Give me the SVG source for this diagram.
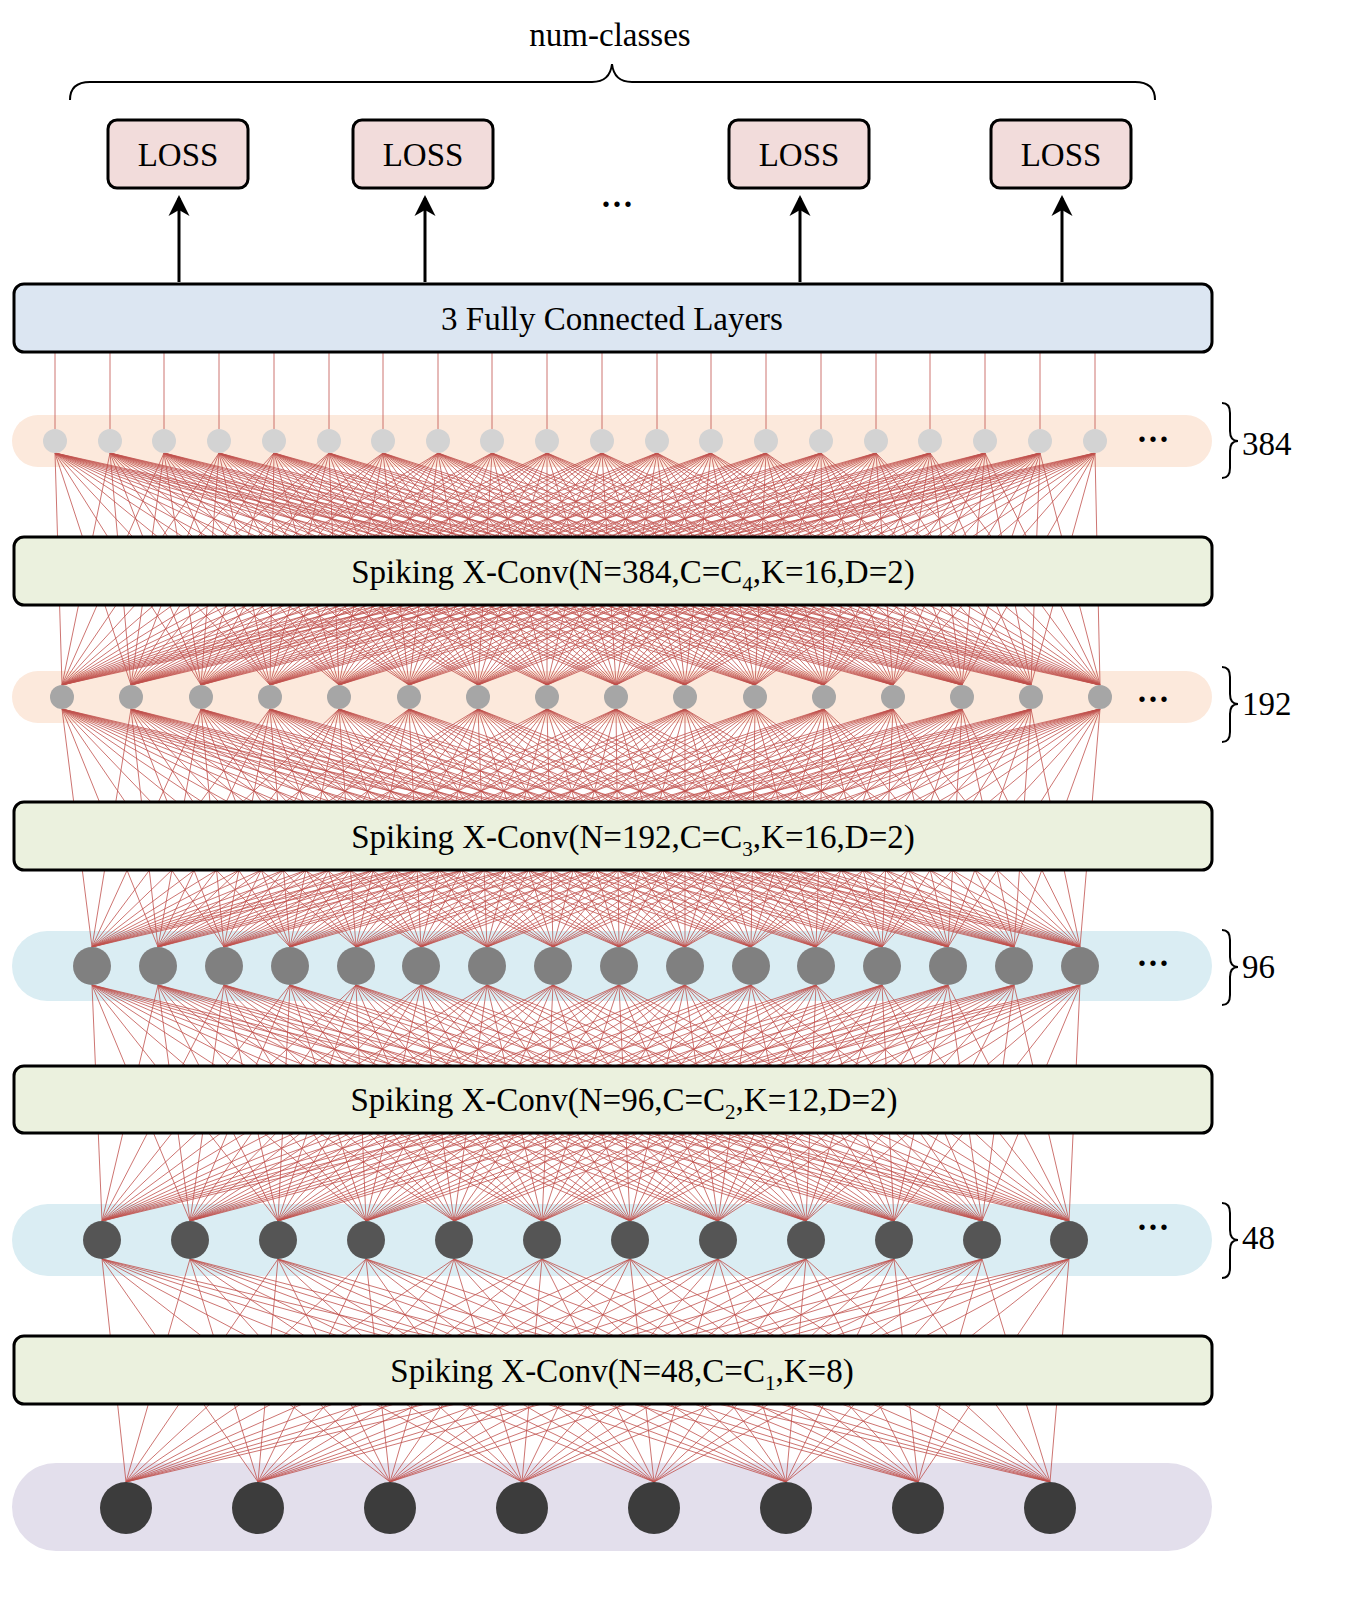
<svg xmlns="http://www.w3.org/2000/svg" width="1353" height="1608" viewBox="0 0 1353 1608">
<style>
text{font-family:"Liberation Serif","Times New Roman",serif;fill:#000}
.box{stroke:#000;stroke-width:3}
.lbl{font-size:33px;text-anchor:middle}
.num{font-size:33px}
.fan{stroke:#c0504d;stroke-width:0.8;fill:none;vector-effect:non-scaling-stroke}
.br{fill:none;stroke:#000;stroke-width:2}
.arr{stroke:#000;stroke-width:3;marker-end:url(#ah)}
</style>
<defs>
<marker id="ah" markerWidth="8" markerHeight="8" refX="6" refY="4" orient="auto" markerUnits="strokeWidth"><path d="M0,0.5L7,4L0,7.5L2,4z" fill="#000"/></marker>
<path id="fA" class="fan" stroke="#c0504d" stroke-width="0.8" fill="none" vector-effect="non-scaling-stroke" d="M0,0L62,1M0,0L131,1M0,0L201,1M0,0L270,1M0,0L339,1M0,0L409,1M0,0L478,1M0,0L547,1M0,0L616,1M0,0L685,1M0,0L755,1M0,0L824,1M0,0L893,1M0,0L962,1M0,0L1031,1M0,0L1100,1"/>
<path id="fB" class="fan" stroke="#c0504d" stroke-width="0.8" fill="none" vector-effect="non-scaling-stroke" d="M0,0L92,1M0,0L158,1M0,0L224,1M0,0L290,1M0,0L356,1M0,0L421,1M0,0L487,1M0,0L553,1M0,0L619,1M0,0L685,1M0,0L751,1M0,0L816,1M0,0L882,1M0,0L948,1M0,0L1014,1M0,0L1080,1"/>
<path id="fC" class="fan" stroke="#c0504d" stroke-width="0.8" fill="none" vector-effect="non-scaling-stroke" d="M0,0L102,1M0,0L190,1M0,0L278,1M0,0L366,1M0,0L454,1M0,0L542,1M0,0L630,1M0,0L718,1M0,0L806,1M0,0L894,1M0,0L982,1M0,0L1069,1"/>
<path id="fD" class="fan" stroke="#c0504d" stroke-width="0.8" fill="none" vector-effect="non-scaling-stroke" d="M0,0L126,1M0,0L258,1M0,0L390,1M0,0L522,1M0,0L654,1M0,0L786,1M0,0L918,1M0,0L1050,1"/>
</defs>
<rect width="1353" height="1608" fill="#fff"/>

<g id="bands">
<rect x="12" y="415" width="1200" height="52" rx="26" fill="#fce9dc"/>
<rect x="12" y="671" width="1200" height="52" rx="26" fill="#fce9dc"/>
<rect x="12" y="931" width="1200" height="70" rx="35" fill="#daedf3"/>
<rect x="12" y="1204" width="1200" height="72" rx="36" fill="#daedf3"/>
<rect x="12" y="1463" width="1200" height="88" rx="44" fill="#e3dfec"/>
</g>

<g id="connectors">
<path class="fan" d="M55,352V429M110,352V429M164,352V429M219,352V429M274,352V429M329,352V429M383,352V429M438,352V429M492,352V429M547,352V429M602,352V429M657,352V429M711,352V429M766,352V429M821,352V429M876,352V429M930,352V429M985,352V429M1040,352V429M1095,352V429"/>
<use href="#fA" transform="matrix(1,0,-55,232,55,453)"/>
<use href="#fA" transform="matrix(1,0,-110,232,110,453)"/>
<use href="#fA" transform="matrix(1,0,-164,232,164,453)"/>
<use href="#fA" transform="matrix(1,0,-219,232,219,453)"/>
<use href="#fA" transform="matrix(1,0,-274,232,274,453)"/>
<use href="#fA" transform="matrix(1,0,-329,232,329,453)"/>
<use href="#fA" transform="matrix(1,0,-383,232,383,453)"/>
<use href="#fA" transform="matrix(1,0,-438,232,438,453)"/>
<use href="#fA" transform="matrix(1,0,-492,232,492,453)"/>
<use href="#fA" transform="matrix(1,0,-547,232,547,453)"/>
<use href="#fA" transform="matrix(1,0,-602,232,602,453)"/>
<use href="#fA" transform="matrix(1,0,-657,232,657,453)"/>
<use href="#fA" transform="matrix(1,0,-711,232,711,453)"/>
<use href="#fA" transform="matrix(1,0,-766,232,766,453)"/>
<use href="#fA" transform="matrix(1,0,-821,232,821,453)"/>
<use href="#fA" transform="matrix(1,0,-876,232,876,453)"/>
<use href="#fA" transform="matrix(1,0,-930,232,930,453)"/>
<use href="#fA" transform="matrix(1,0,-985,232,985,453)"/>
<use href="#fA" transform="matrix(1,0,-1040,232,1040,453)"/>
<use href="#fA" transform="matrix(1,0,-1095,232,1095,453)"/>

<use href="#fB" transform="matrix(1,0,-62,238,62,709)"/>
<use href="#fB" transform="matrix(1,0,-131,238,131,709)"/>
<use href="#fB" transform="matrix(1,0,-201,238,201,709)"/>
<use href="#fB" transform="matrix(1,0,-270,238,270,709)"/>
<use href="#fB" transform="matrix(1,0,-339,238,339,709)"/>
<use href="#fB" transform="matrix(1,0,-409,238,409,709)"/>
<use href="#fB" transform="matrix(1,0,-478,238,478,709)"/>
<use href="#fB" transform="matrix(1,0,-547,238,547,709)"/>
<use href="#fB" transform="matrix(1,0,-616,238,616,709)"/>
<use href="#fB" transform="matrix(1,0,-685,238,685,709)"/>
<use href="#fB" transform="matrix(1,0,-755,238,755,709)"/>
<use href="#fB" transform="matrix(1,0,-824,238,824,709)"/>
<use href="#fB" transform="matrix(1,0,-893,238,893,709)"/>
<use href="#fB" transform="matrix(1,0,-962,238,962,709)"/>
<use href="#fB" transform="matrix(1,0,-1031,238,1031,709)"/>
<use href="#fB" transform="matrix(1,0,-1100,238,1100,709)"/>

<use href="#fC" transform="matrix(1,0,-92,236,92,985)"/>
<use href="#fC" transform="matrix(1,0,-158,236,158,985)"/>
<use href="#fC" transform="matrix(1,0,-224,236,224,985)"/>
<use href="#fC" transform="matrix(1,0,-290,236,290,985)"/>
<use href="#fC" transform="matrix(1,0,-356,236,356,985)"/>
<use href="#fC" transform="matrix(1,0,-421,236,421,985)"/>
<use href="#fC" transform="matrix(1,0,-487,236,487,985)"/>
<use href="#fC" transform="matrix(1,0,-553,236,553,985)"/>
<use href="#fC" transform="matrix(1,0,-619,236,619,985)"/>
<use href="#fC" transform="matrix(1,0,-685,236,685,985)"/>
<use href="#fC" transform="matrix(1,0,-751,236,751,985)"/>
<use href="#fC" transform="matrix(1,0,-816,236,816,985)"/>
<use href="#fC" transform="matrix(1,0,-882,236,882,985)"/>
<use href="#fC" transform="matrix(1,0,-948,236,948,985)"/>
<use href="#fC" transform="matrix(1,0,-1014,236,1014,985)"/>
<use href="#fC" transform="matrix(1,0,-1080,236,1080,985)"/>

<use href="#fD" transform="matrix(1,0,-102,223,102,1259)"/>
<use href="#fD" transform="matrix(1,0,-190,223,190,1259)"/>
<use href="#fD" transform="matrix(1,0,-278,223,278,1259)"/>
<use href="#fD" transform="matrix(1,0,-366,223,366,1259)"/>
<use href="#fD" transform="matrix(1,0,-454,223,454,1259)"/>
<use href="#fD" transform="matrix(1,0,-542,223,542,1259)"/>
<use href="#fD" transform="matrix(1,0,-630,223,630,1259)"/>
<use href="#fD" transform="matrix(1,0,-718,223,718,1259)"/>
<use href="#fD" transform="matrix(1,0,-806,223,806,1259)"/>
<use href="#fD" transform="matrix(1,0,-894,223,894,1259)"/>
<use href="#fD" transform="matrix(1,0,-982,223,982,1259)"/>
<use href="#fD" transform="matrix(1,0,-1069,223,1069,1259)"/>
</g>

<g id="arrows">
<line class="arr" x1="179" y1="282" x2="179" y2="198"/>
<line class="arr" x1="425" y1="282" x2="425" y2="198"/>
<line class="arr" x1="800" y1="282" x2="800" y2="198"/>
<line class="arr" x1="1062" y1="282" x2="1062" y2="198"/>
</g>

<g id="layer384" fill="#d3d3d3">
<circle cx="55" cy="441" r="12"/><circle cx="110" cy="441" r="12"/><circle cx="164" cy="441" r="12"/><circle cx="219" cy="441" r="12"/><circle cx="274" cy="441" r="12"/><circle cx="329" cy="441" r="12"/><circle cx="383" cy="441" r="12"/><circle cx="438" cy="441" r="12"/><circle cx="492" cy="441" r="12"/><circle cx="547" cy="441" r="12"/><circle cx="602" cy="441" r="12"/><circle cx="657" cy="441" r="12"/><circle cx="711" cy="441" r="12"/><circle cx="766" cy="441" r="12"/><circle cx="821" cy="441" r="12"/><circle cx="876" cy="441" r="12"/><circle cx="930" cy="441" r="12"/><circle cx="985" cy="441" r="12"/><circle cx="1040" cy="441" r="12"/><circle cx="1095" cy="441" r="12"/>
</g>
<g id="layer192" fill="#a6a6a6">
<circle cx="62" cy="697" r="12"/><circle cx="131" cy="697" r="12"/><circle cx="201" cy="697" r="12"/><circle cx="270" cy="697" r="12"/><circle cx="339" cy="697" r="12"/><circle cx="409" cy="697" r="12"/><circle cx="478" cy="697" r="12"/><circle cx="547" cy="697" r="12"/><circle cx="616" cy="697" r="12"/><circle cx="685" cy="697" r="12"/><circle cx="755" cy="697" r="12"/><circle cx="824" cy="697" r="12"/><circle cx="893" cy="697" r="12"/><circle cx="962" cy="697" r="12"/><circle cx="1031" cy="697" r="12"/><circle cx="1100" cy="697" r="12"/>
</g>
<g id="layer96" fill="#808080">
<circle cx="92" cy="966" r="19"/><circle cx="158" cy="966" r="19"/><circle cx="224" cy="966" r="19"/><circle cx="290" cy="966" r="19"/><circle cx="356" cy="966" r="19"/><circle cx="421" cy="966" r="19"/><circle cx="487" cy="966" r="19"/><circle cx="553" cy="966" r="19"/><circle cx="619" cy="966" r="19"/><circle cx="685" cy="966" r="19"/><circle cx="751" cy="966" r="19"/><circle cx="816" cy="966" r="19"/><circle cx="882" cy="966" r="19"/><circle cx="948" cy="966" r="19"/><circle cx="1014" cy="966" r="19"/><circle cx="1080" cy="966" r="19"/>
</g>
<g id="layer48" fill="#555555">
<circle cx="102" cy="1240" r="19"/><circle cx="190" cy="1240" r="19"/><circle cx="278" cy="1240" r="19"/><circle cx="366" cy="1240" r="19"/><circle cx="454" cy="1240" r="19"/><circle cx="542" cy="1240" r="19"/><circle cx="630" cy="1240" r="19"/><circle cx="718" cy="1240" r="19"/><circle cx="806" cy="1240" r="19"/><circle cx="894" cy="1240" r="19"/><circle cx="982" cy="1240" r="19"/><circle cx="1069" cy="1240" r="19"/>
</g>
<g id="layerInput" fill="#3c3c3c">
<circle cx="126" cy="1508" r="26"/><circle cx="258" cy="1508" r="26"/><circle cx="390" cy="1508" r="26"/><circle cx="522" cy="1508" r="26"/><circle cx="654" cy="1508" r="26"/><circle cx="786" cy="1508" r="26"/><circle cx="918" cy="1508" r="26"/><circle cx="1050" cy="1508" r="26"/>
</g>

<g id="dots" class="num" text-anchor="middle" font-weight="bold">
<text x="617" y="215">···</text>
<text x="1153" y="450">···</text>
<text x="1153" y="710">···</text>
<text x="1153" y="974">···</text>
<text x="1153" y="1238">···</text>
</g>

<g id="braces">
<path class="br" d="M70,100Q70,82 90,82L592,82Q610,82 612,64Q614,82 632,82L1135,82Q1155,82 1155,100"/>
<path class="br" d="M1222,403Q1230,403 1230,413L1230,431Q1230,441 1238,441Q1230,441 1230,451L1230,468Q1230,478 1222,478"/>
<path class="br" d="M1222,667Q1230,667 1230,677L1230,694Q1230,704 1238,704Q1230,704 1230,714L1230,732Q1230,742 1222,742"/>
<path class="br" d="M1222,930Q1230,930 1230,940L1230,957Q1230,967 1238,967Q1230,967 1230,977L1230,995Q1230,1005 1222,1005"/>
<path class="br" d="M1222,1203Q1230,1203 1230,1213L1230,1230Q1230,1240 1238,1240Q1230,1240 1230,1250L1230,1268Q1230,1278 1222,1278"/>
<text class="num" x="1242" y="455">384</text>
<text class="num" x="1242" y="715">192</text>
<text class="num" x="1242" y="978">96</text>
<text class="num" x="1242" y="1249">48</text>
<text class="num" x="610" y="46" text-anchor="middle">num-classes</text>
</g>

<g id="loss1"><rect class="box" x="108" y="120" width="140" height="68" rx="9" fill="#f2dcdb"/><text class="lbl" x="178" y="166">LOSS</text></g>
<g id="loss2"><rect class="box" x="353" y="120" width="140" height="68" rx="9" fill="#f2dcdb"/><text class="lbl" x="423" y="166">LOSS</text></g>
<g id="loss3"><rect class="box" x="729" y="120" width="140" height="68" rx="9" fill="#f2dcdb"/><text class="lbl" x="799" y="166">LOSS</text></g>
<g id="loss4"><rect class="box" x="991" y="120" width="140" height="68" rx="9" fill="#f2dcdb"/><text class="lbl" x="1061" y="166">LOSS</text></g>

<g id="fc"><rect class="box" x="14" y="284" width="1198" height="68" rx="10" fill="#dce6f2"/><text class="lbl" x="612" y="330">3 Fully Connected Layers</text></g>
<g id="conv4"><rect class="box" x="14" y="537" width="1198" height="68" rx="10" fill="#ebf1de"/><text class="lbl" x="633" y="583">Spiking X-Conv(N=384,C=C<tspan font-size="21" dy="8">4</tspan><tspan dy="-8">,K=16,D=2)</tspan></text></g>
<g id="conv3"><rect class="box" x="14" y="802" width="1198" height="68" rx="10" fill="#ebf1de"/><text class="lbl" x="633" y="848">Spiking X-Conv(N=192,C=C<tspan font-size="21" dy="8">3</tspan><tspan dy="-8">,K=16,D=2)</tspan></text></g>
<g id="conv2"><rect class="box" x="14" y="1066" width="1198" height="67" rx="10" fill="#ebf1de"/><text class="lbl" x="624" y="1111">Spiking X-Conv(N=96,C=C<tspan font-size="21" dy="8">2</tspan><tspan dy="-8">,K=12,D=2)</tspan></text></g>
<g id="conv1"><rect class="box" x="14" y="1336" width="1198" height="68" rx="10" fill="#ebf1de"/><text class="lbl" x="622" y="1382">Spiking X-Conv(N=48,C=C<tspan font-size="21" dy="8">1</tspan><tspan dy="-8">,K=8)</tspan></text></g>
</svg>
